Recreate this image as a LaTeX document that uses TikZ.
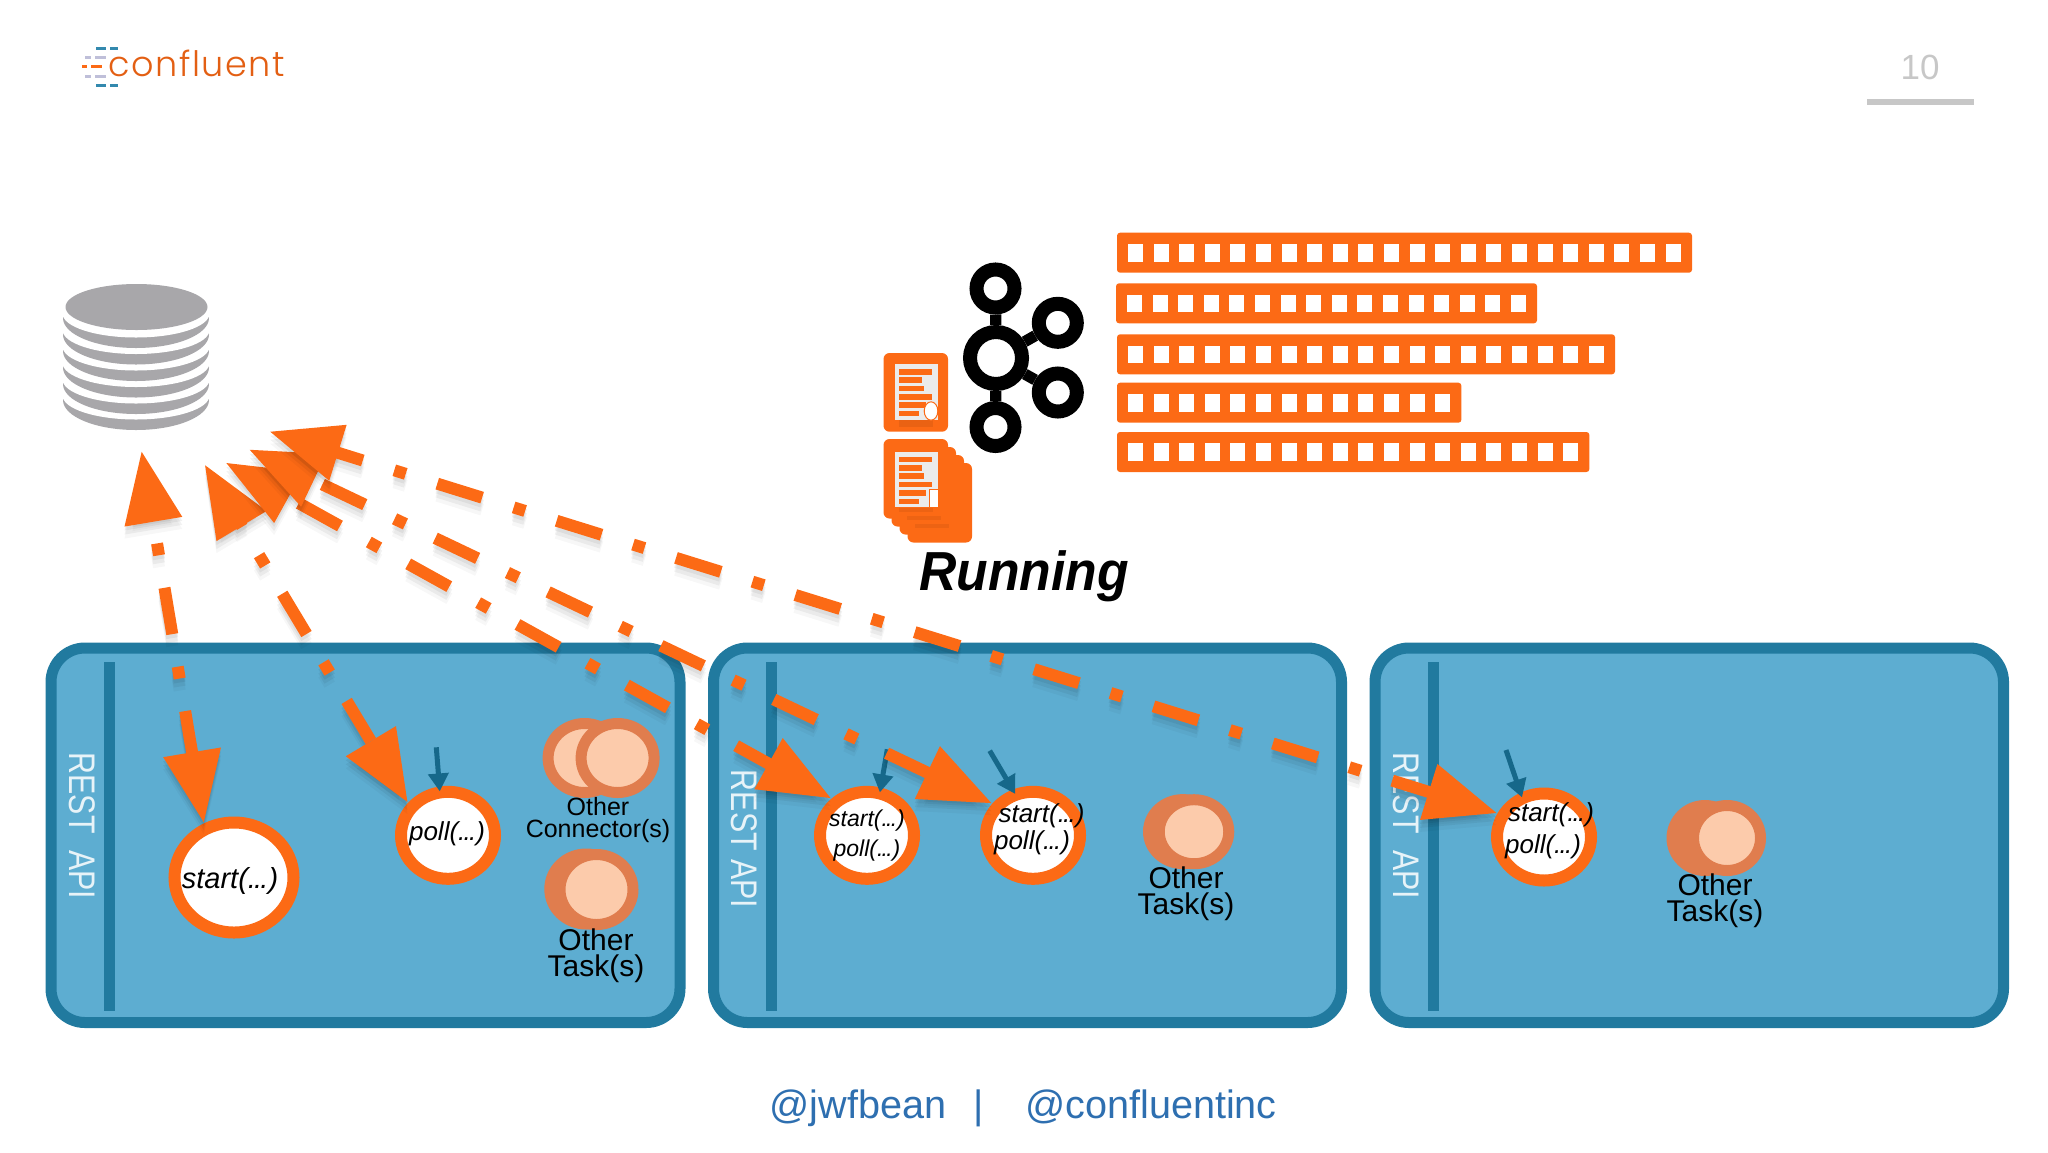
\documentclass[tikz,border=0pt]{standalone}
\usepackage{fontspec}
\usetikzlibrary{arrows.meta,shapes.geometric}
\setmainfont{Liberation Sans}
\newfontfamily\logofont[LetterSpace=4.5]{Poppins Light}

\definecolor{arroworange}{HTML}{FC6A15}
\definecolor{boxblue}{HTML}{5DADD1}
\definecolor{boxedge}{HTML}{217A9F}
\definecolor{arrowteal}{HTML}{16688A}
\definecolor{ringorange}{HTML}{E07D4E}
\definecolor{peach}{HTML}{FCCBAB}
\definecolor{dbgray}{HTML}{A8A7AA}
\definecolor{handleblue}{HTML}{2E6FB0}

\newcommand{\tightdots}{.\kern-.9pt.\kern-.9pt.}

\tikzset{
    bigtip/.tip={Triangle[length=36pt,width=27.5pt]},
    worker/.style={draw=boxedge,fill=boxblue,line width=5.5pt,rounded corners=17pt},
    restbar/.style={fill=boxedge},
    resttext/.style={rotate=-90,inner sep=0pt,text=white!85!boxblue},
    methodring/.style={ellipse,draw=arroworange,fill=white,line width=6pt,inner sep=0pt},
    methodtext/.style={inner sep=0pt,font=\itshape},
    taskback/.style={ellipse,fill=ringorange,inner sep=0pt},
    taskfront/.style={ellipse,draw=ringorange,fill=peach,line width=5.5pt,inner sep=0pt},
    tasktext/.style={align=center,inner sep=0pt},
    pollarrow/.style={draw=arrowteal,line width=2.5pt,shorten >=-2.5pt,-{Triangle[length=9pt,width=10pt]}},
    rebalanceline/.style={line width=6pt,bigtip-bigtip,
        dash pattern=on 23.5pt off 16.5pt on 6pt off 16.5pt,dash phase=#1},
    rebalance/.style={draw=arroworange,rebalanceline=#1,
        preaction={draw=black,rebalanceline=#1,opacity=.06,transform canvas={yshift=-2pt}},
        preaction={draw=black,rebalanceline=#1,opacity=.05,transform canvas={yshift=-4pt}},
        preaction={draw=black,rebalanceline=#1,opacity=.03,transform canvas={yshift=-6pt}}},
    kafkaring/.style={circle,draw=black,line width=7pt,inner sep=0pt},
    kafkalink/.style={draw=black,line width=5.6pt},
    docpage/.style={fill=arroworange,rounded corners=3pt},
    partition/.style={fill=arroworange,rounded corners=1.5pt},
}

\begin{document}
\begin{tikzpicture}[x=0.5pt,y=-0.5pt]

    \useasboundingbox (0,0) rectangle (2048,1152);

    % logo
    \foreach \a/\b/\c/\d/\y/\col in {
        96/106/110/118/48/boxedge!70!boxblue,
        85/91/95/106/57/blue!25!gray!40,
        82/87/91/102/66/arroworange,
        85/91/95/106/76/blue!25!gray!40,
        96/106/110/118/85/boxedge!70!boxblue} {
        \fill[\col] (\a,\y-1.5) rectangle (\b,\y+1.5);
        \fill[\col] (\c,\y-1.5) rectangle (\d,\y+1.5);
    }
    \node[anchor=base west,inner sep=0pt,text=arroworange!90!black,font=\logofont\fontsize{17.5pt}{20pt}\selectfont] (logo) at (108,76) {confluent};

    % page number
    \node[inner sep=0pt,text=black!22,font=\fontsize{17.5pt}{20pt}\selectfont] (pagenum) at (1920,67.5) {10};
    \fill[black!22] (1867,99) rectangle (1974,105);

    % database
    \foreach \y in {430,414,397.5,381,364.5,348} {
        \fill[dbgray] (136,\y-30) ellipse [x radius=73,y radius=30];
        \fill[white] (136,\y-34.5) ellipse [x radius=73.5,y radius=24];
    }
    \fill[dbgray] (136.5,307) ellipse [x radius=71,y radius=23];

    % kafka
    \node[kafkaring,minimum size=26pt] (hub) at (996,358) {};
    \node[kafkaring,minimum size=19pt] (ringtop) at (995.5,288.5) {};
    \node[kafkaring,minimum size=19pt] (ringbottom) at (995.5,427) {};
    \node[kafkaring,minimum size=19pt] (ringupper) at (1057.8,322.8) {};
    \node[kafkaring,minimum size=19pt] (ringlower) at (1057.8,392.5) {};
    \draw[kafkalink] (hub) -- (ringtop);
    \draw[kafkalink] (hub) -- (ringbottom);
    \draw[kafkalink] (hub) -- (ringupper);
    \draw[kafkalink] (hub) -- (ringlower);

    % topics
    \foreach \left/\top/\right/\n in {1117/232.7/1692/22,1116/283.3/1537/16,1117/334.3/1615/19,1117/382.7/1461.4/13,1117/432/1589.4/18} {
        \fill[partition] (\left,\top) rectangle (\right,\top+40);
        \foreach \i in {1,...,\n} {
            \fill[white] (\left+11+25.6*\i-25.6,\top+11.3) rectangle (\left+26+25.6*\i-25.6,\top+29);
        }
    }

    % config files
    \fill[docpage] (883.5,353) rectangle (948,431.7);
    \fill[black,opacity=.07] (899,420) rectangle (933,427);
    \fill[white!92!black] (895,364) rectangle (938,420);
    \foreach \y/\w in {369/33,377/23,385.5/25,394/33,402/27,410.5/20} {
        \fill[arroworange] (899,\y) rectangle (899+\w,\y+5.5);
    }
    \filldraw[fill=white,draw=arroworange,line width=.5pt] (931,411) ellipse [x radius=6.8,y radius=9.2];

    \foreach \d in {24,16,8,0} {
        \fill[docpage] (883.5+\d,439+\d) rectangle (948+\d,518.5+\d);
    }
    \foreach \d in {0,8,16} {
        \fill[black,opacity=.06] (899+\d,508+\d) rectangle (933+\d,512+\d);
    }
    \fill[white!92!black] (895,451.5) rectangle (938,507);
    \foreach \y/\w in {456.5/33,465/23,473/25,481.5/33,490/27,498.5/20} {
        \fill[arroworange] (899,\y) rectangle (899+\w,\y+5.5);
    }
    \filldraw[fill=white,draw=arroworange,line width=.5pt] (929,489) rectangle (938,507);

    \node[inner sep=0pt,font=\bfseries\itshape\fontsize{27.5pt}{30pt}\selectfont] (state) at (1024,576) {\scalebox{.94}[1]{Running}};

    % workers
    \draw[worker] (51,648) rectangle (680,1022.5);
    \draw[worker] (713.5,648) rectangle (1341.5,1022.5);
    \draw[worker] (1375,648) rectangle (2003.5,1022.5);

    \fill[restbar] (103.7,662) rectangle (115,1011);
    \fill[restbar] (766,662) rectangle (777,1011);
    \fill[restbar] (1427.6,662) rectangle (1439,1011);

    \node[resttext] (restone) at (82,826) {\scalebox{.82}[1]{\fontsize{18.5pt}{20pt}\selectfont REST~~API}};
    \node[resttext] (resttwo) at (744,839) {\scalebox{.82}[1]{\fontsize{18.5pt}{20pt}\selectfont REST API}};
    \node[resttext] (restthree) at (1406,826) {\scalebox{.82}[1]{\fontsize{18.5pt}{20pt}\selectfont REST~~API}};

    % tasks, first worker
    \node[methodring,minimum width=59.5pt,minimum height=55pt] (startone) at (234,877.5) {};
    \node[methodring,minimum width=47pt,minimum height=43.5pt] (pollone) at (448,835.3) {};
    \node[methodtext,font=\itshape\fontsize{14.5pt}{16pt}\selectfont] at (230,880.5) {start(\tightdots)};
    \node[methodtext,font=\itshape\fontsize{13pt}{16pt}\selectfont] at (447,833.5) {poll(\tightdots)};

    \node[taskfront,minimum width=36.5pt,minimum height=34.5pt] (connback) at (584.6,758) {};
    \node[taskfront,minimum width=36.5pt,minimum height=34.5pt] (connfront) at (617.6,758) {};
    \node[tasktext,font=\fontsize{12.5pt}{11pt}\selectfont] (connlabel) at (598,820.5) {Other\\Connector(s)};

    \node[taskback,minimum width=42pt,minimum height=40.5pt] (taskoneback) at (586.3,889) {};
    \node[taskfront,minimum width=36.5pt,minimum height=35pt] (taskone) at (596.5,889.5) {};
    \node[tasktext,font=\fontsize{15pt}{13pt}\selectfont] (tasklabelone) at (596,955.5) {Other\\Task(s)};

    % tasks, second worker
    \node[methodring,minimum width=47pt,minimum height=43.5pt] (starttwo) at (867,835.3) {};
    \node[methodring,minimum width=47pt,minimum height=43.5pt] (startthree) at (1033,835.3) {};
    \node[methodtext,font=\itshape\fontsize{11.5pt}{14pt}\selectfont] at (867,820.5) {start(\tightdots)};
    \node[methodtext,font=\itshape\fontsize{11.5pt}{14pt}\selectfont] at (867,850.5) {poll(\tightdots)};
    \node[methodtext,font=\itshape\fontsize{13pt}{16pt}\selectfont] at (1041.5,815.5) {start(\tightdots)};
    \node[methodtext,font=\itshape\fontsize{13pt}{16pt}\selectfont] at (1032,842.5) {poll(\tightdots)};

    \node[taskback,minimum width=40pt,minimum height=37.5pt] (tasktwoback) at (1183,831.6) {};
    \node[taskfront,minimum width=34.75pt,minimum height=32pt] (tasktwo) at (1194,831.7) {};
    \node[tasktext,font=\fontsize{15pt}{13pt}\selectfont] (tasklabeltwo) at (1186,894) {Other\\Task(s)};

    % tasks, third worker
    \node[methodring,minimum width=47pt,minimum height=43.5pt] (startfour) at (1544,837) {};
    \node[methodtext,font=\itshape\fontsize{13pt}{16pt}\selectfont] at (1551,815) {start(\tightdots)};
    \node[methodtext,font=\itshape\fontsize{13pt}{16pt}\selectfont] at (1543,847) {poll(\tightdots)};

    \node[taskback,minimum width=38.5pt,minimum height=38pt] (taskthreeback) at (1705,838) {};
    \node[taskfront,minimum width=33.5pt,minimum height=32.5pt] (taskthree) at (1727,838) {};
    \node[tasktext,font=\fontsize{15pt}{13pt}\selectfont] (tasklabelthree) at (1715,901) {Other\\Task(s)};

    % poll arrows
    \coordinate (pollfromone) at (436.3,747.3);
    \coordinate (pollfromtwo) at (887.3,749.3);
    \coordinate (pollfromthree) at (989.7,750.7);
    \coordinate (pollfromfour) at (1506,750);
    \draw[pollarrow] (pollfromone) -- (pollone.100);
    \draw[pollarrow] (pollfromtwo) -- (starttwo.74);
    \draw[pollarrow] (pollfromthree) -- (startthree.114);
    \draw[pollarrow] (pollfromfour) -- (startfour.118);

    % database connections
    \coordinate (dbtipa) at (141.5,450.7);
    \coordinate (dbtipb) at (204.5,464.3);
    \coordinate (dbtipc) at (225.4,462.5);
    \coordinate (dbtipd) at (248.7,449.3);
    \coordinate (dbtipe) at (269.2,431.4);
    \draw[rebalance=27.5pt] (dbtipa) -- (startone.119);
    \draw[rebalance=21.5pt] (dbtipb) -- (pollone.141);
    \draw[rebalance=55pt] (dbtipc) -- (starttwo.134);
    \draw[rebalance=56.2pt] (dbtipd) -- (startthree.142);
    \draw[rebalance=9pt] (dbtipe) -- (startfour.153);

    % footer
    \node[inner sep=0pt,anchor=base,text=handleblue,font=\fontsize{19.8pt}{22pt}\selectfont] (handleone) at (858,1118) {@jwfbean};
    \node[inner sep=0pt,anchor=base,text=handleblue,font=\fontsize{19.8pt}{22pt}\selectfont] (divider) at (979,1118) {|};
    \node[inner sep=0pt,anchor=base,text=handleblue,font=\fontsize{19.8pt}{22pt}\selectfont] (handletwo) at (1151,1118) {@confluentinc};

\end{tikzpicture}
\end{document}
